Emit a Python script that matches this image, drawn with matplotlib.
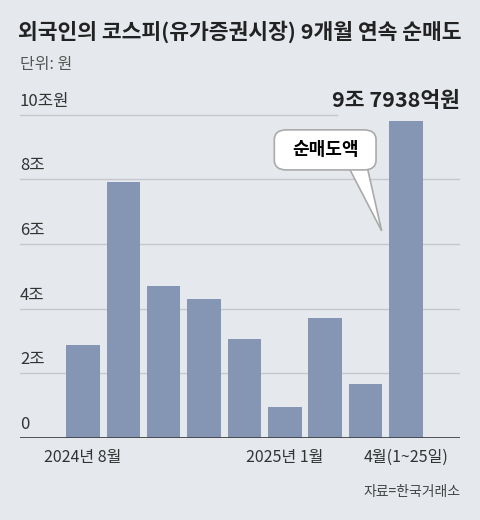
import matplotlib.pyplot as plt
from matplotlib.patches import FancyBboxPatch, Polygon
import numpy as np

plt.rcParams['font.family'] = ['Noto Sans CJK KR', 'DejaVu Sans']

months = ['2024년 8월', '9월', '10월', '11월', '12월', '2025년 1월', '2월', '3월', '4월(1~25일)']
values = [2.87, 7.91, 4.69, 4.30, 3.05, 0.94, 3.70, 1.67, 9.79]
shown_labels = {0: '2024년 8월', 5: '2025년 1월', 8: '4월(1~25일)'}
yticks = [0, 2, 4, 6, 8, 10]
ytick_labels = ['0', '2조', '4조', '6조', '8조', '10조원']

bg = '#e5e9ed'
bar_color = '#8596b4'

fig = plt.figure(figsize=(4.8, 5.2), dpi=100)
fig.patch.set_facecolor(bg)
ax = fig.add_axes([20 / 480, 1 - 437.7 / 520, 440 / 480, (437.7 - 114.7) / 520])
ax.set_facecolor('none')

x = np.arange(len(values))
ax.bar(x, values, width=0.83, color=bar_color, zorder=2)
ax.set_xlim(-1.56, 9.34)
ax.set_ylim(0, 10)

for t, lab in zip(yticks, ytick_labels):
    if t == 10:
        ax.plot([-1.56, 6.3], [t, t], color='#c4c8cc', lw=1, zorder=1, clip_on=False)
    elif t > 0:
        ax.axhline(t, color='#c4c8cc', lw=1, zorder=1)
    ax.text(-1.56, t + 0.15, lab, fontsize=12, color='#333333', va='bottom', ha='left')
ax.axhline(0, color='#444444', lw=1.3, zorder=3)

for i, lab in shown_labels.items():
    ax.text(x[i], -0.35, lab, fontsize=11.5, color='#333333', ha='center', va='top')

ax.text(9.34, 10.1, '9조 7938억원', fontsize=15.5, fontweight='bold',
        color='#222222', ha='right', va='bottom')

# callout
box = FancyBboxPatch((4.8, 8.35), 2.4, 1.12, boxstyle='round,pad=0.06,rounding_size=0.3',
                     facecolor='white', edgecolor='#aaaaaa', lw=1.2, zorder=4)
ax.add_patch(box)
ax.add_patch(Polygon([[6.6, 8.33], [7.05, 8.33], [7.4, 6.4]], closed=True,
                     facecolor='white', edgecolor='#aaaaaa', lw=1.2, zorder=3))
ax.text(6.0, 8.92, '순매도액', fontsize=13, fontweight='bold', ha='center', va='center', zorder=5)

for s in ax.spines.values():
    s.set_visible(False)
ax.set_xticks([])
ax.set_yticks([])

fig.text(18 / 480, 1 - 32 / 520, '외국인의 코스피(유가증권시장) 9개월 연속 순매도',
         fontsize=15.5, fontweight='bold', color='#222222', va='center')
fig.text(20 / 480, 1 - 65 / 520, '단위: 원', fontsize=11.5, color='#555555', va='center')
fig.text(460 / 480, 1 - 492 / 520, '자료=한국거래소', fontsize=10, color='#444444',
         ha='right', va='center')

fig.savefig('out.png', dpi=100, facecolor=bg)
